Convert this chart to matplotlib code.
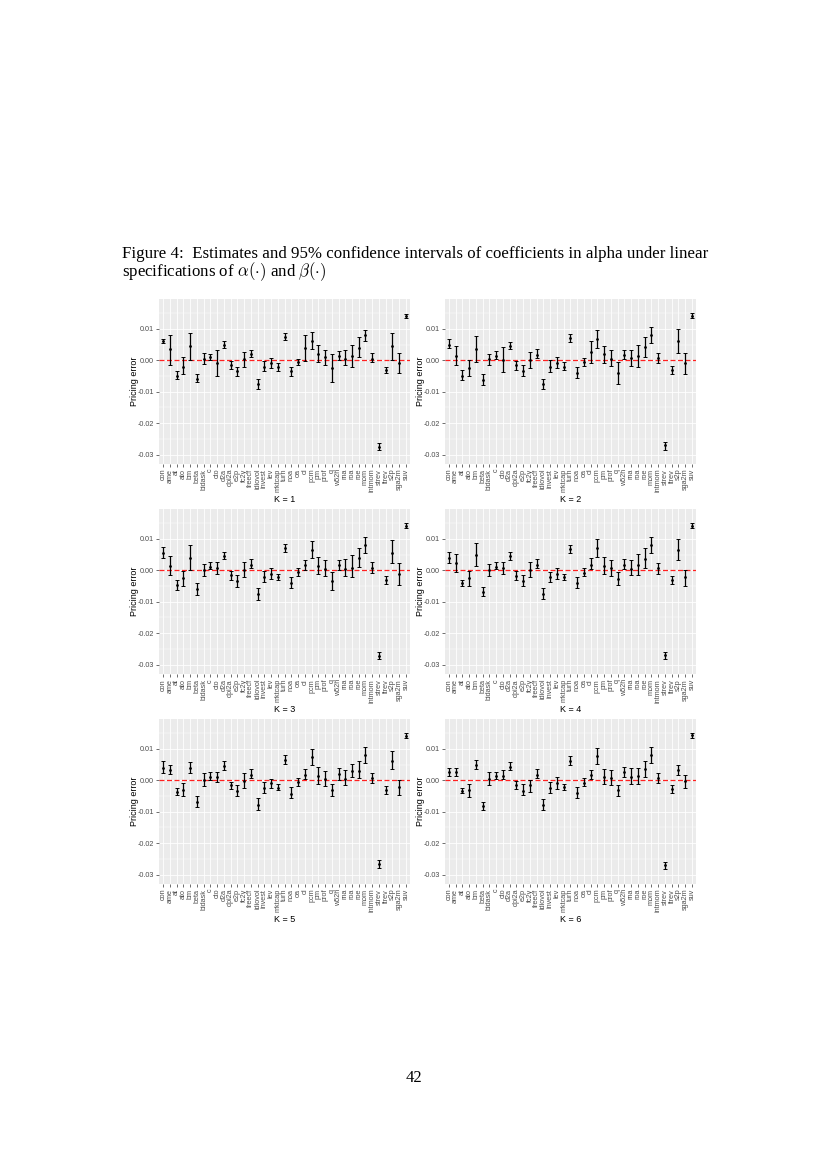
import matplotlib
matplotlib.use("Agg")
import matplotlib.pyplot as plt
import numpy as np

# characteristics on the x axis
labels = ["con", "ame", "at", "ato", "bm", "beta", "bidask", "c", "cto", "d2a",
          "dpi2a", "e2p", "fc2y", "freecf", "idiovol", "invest", "lev", "mktcap",
          "turn", "noa", "oa", "ol", "pcm", "pm", "prof", "q", "w52h", "rna",
          "roa", "roe", "mom", "intmom", "strev", "ltrev", "s2p", "sga2m", "suv"]

# K = 1
est_k1 = [0.0060, 0.0035, -0.0050, -0.0020, 0.0045, -0.0060, 0.0003, 0.0010, -0.0010, 0.0048,
          -0.0015, -0.0035, 0.0003, 0.0020, -0.0075, -0.0020, -0.0010, -0.0022, 0.0075, -0.0035,
          -0.0005, 0.0040, 0.0060, 0.0020, 0.0010, -0.0025, 0.0013, 0.0005, 0.0015, 0.0040,
          0.0080, 0.0005, -0.0275, -0.0030, 0.0045, -0.0010, 0.0140]
lo_k1 = [0.0055, -0.0015, -0.0060, -0.0045, 0.0000, -0.0070, -0.0013, 0.0000, -0.0050, 0.0038,
         -0.0028, -0.0050, -0.0020, 0.0010, -0.0090, -0.0035, -0.0025, -0.0033, 0.0065, -0.0050,
         -0.0015, -0.0003, 0.0035, -0.0007, -0.0015, -0.0070, 0.0000, -0.0015, -0.0020, 0.0010,
         0.0060, -0.0005, -0.0285, -0.0040, 0.0000, -0.0042, 0.0135]
hi_k1 = [0.0067, 0.0080, -0.0035, 0.0010, 0.0087, -0.0045, 0.0022, 0.0020, 0.0033, 0.0060,
         -0.0002, -0.0020, 0.0025, 0.0033, -0.0060, -0.0002, 0.0006, -0.0010, 0.0088, -0.0020,
         0.0005, 0.0080, 0.0090, 0.0048, 0.0034, 0.0020, 0.0030, 0.0034, 0.0050, 0.0073,
         0.0098, 0.0022, -0.0262, -0.0020, 0.0087, 0.0024, 0.0148]

# K = 2
est_k2 = [0.0050, 0.0015, -0.0050, -0.0025, 0.0035, -0.0062, 0.0003, 0.0013, 0.0000, 0.0045,
          -0.0015, -0.0035, 0.0000, 0.0018, -0.0077, -0.0020, -0.0008, -0.0020, 0.0070, -0.0040,
          -0.0007, 0.0025, 0.0068, 0.0020, 0.0005, -0.0040, 0.0017, 0.0007, 0.0013, 0.0042,
          0.0080, 0.0006, -0.0271, -0.0030, 0.0060, -0.0010, 0.0142]
lo_k2 = [0.0040, -0.0016, -0.0063, -0.0050, -0.0004, -0.0079, -0.0016, 0.0004, -0.0038, 0.0036,
         -0.0032, -0.0051, -0.0023, 0.0006, -0.0091, -0.0038, -0.0024, -0.0032, 0.0057, -0.0057,
         -0.0018, -0.0009, 0.0040, -0.0010, -0.0019, -0.0077, 0.0003, -0.0017, -0.0022, 0.0011,
         0.0056, -0.0010, -0.0284, -0.0043, 0.0022, -0.0045, 0.0134]
hi_k2 = [0.0069, 0.0047, -0.0031, 0.0000, 0.0078, -0.0044, 0.0021, 0.0028, 0.0041, 0.0058,
         -0.0003, -0.0015, 0.0026, 0.0035, -0.0060, 0.0000, 0.0009, -0.0007, 0.0085, -0.0021,
         0.0006, 0.0060, 0.0097, 0.0047, 0.0032, -0.0006, 0.0033, 0.0034, 0.0049, 0.0074,
         0.0105, 0.0023, -0.0260, -0.0019, 0.0100, 0.0023, 0.0150]

# K = 3
est_k3 = [0.0055, 0.0015, -0.0048, -0.0025, 0.0040, -0.0060, 0.0000, 0.0012, 0.0007, 0.0047,
          -0.0015, -0.0033, 0.0000, 0.0018, -0.0075, -0.0020, -0.0010, -0.0020, 0.0072, -0.0040,
          -0.0006, 0.0017, 0.0065, 0.0015, 0.0005, -0.0035, 0.0017, 0.0005, 0.0008, 0.0040,
          0.0080, 0.0006, -0.0271, -0.0030, 0.0055, -0.0010, 0.0142]
lo_k3 = [0.0038, -0.0015, -0.0063, -0.0051, 0.0000, -0.0079, -0.0018, 0.0004, -0.0010, 0.0035,
         -0.0032, -0.0052, -0.0021, 0.0006, -0.0093, -0.0038, -0.0026, -0.0031, 0.0057, -0.0057,
         -0.0017, 0.0000, 0.0038, -0.0010, -0.0018, -0.0063, 0.0001, -0.0017, -0.0022, 0.0011,
         0.0056, -0.0009, -0.0283, -0.0044, 0.0022, -0.0045, 0.0134]
hi_k3 = [0.0073, 0.0047, -0.0032, -0.0002, 0.0081, -0.0041, 0.0021, 0.0028, 0.0028, 0.0060,
         -0.0001, -0.0015, 0.0026, 0.0035, -0.0057, -0.0002, 0.0009, -0.0010, 0.0084, -0.0022,
         0.0006, 0.0034, 0.0095, 0.0044, 0.0032, -0.0004, 0.0033, 0.0035, 0.0049, 0.0072,
         0.0105, 0.0026, -0.0260, -0.0017, 0.0096, 0.0024, 0.0150]

# K = 4
est_k4 = [0.0040, 0.0022, -0.0040, -0.0025, 0.0050, -0.0068, 0.0000, 0.0012, 0.0008, 0.0045,
          -0.0018, -0.0033, 0.0000, 0.0018, -0.0075, -0.0022, -0.0010, -0.0022, 0.0067, -0.0040,
          -0.0007, 0.0017, 0.0070, 0.0015, 0.0008, -0.0027, 0.0018, 0.0005, 0.0017, 0.0035,
          0.0080, 0.0006, -0.0268, -0.0030, 0.0065, -0.0020, 0.0142]
lo_k4 = [0.0023, -0.0006, -0.0050, -0.0051, 0.0014, -0.0082, -0.0017, 0.0003, -0.0011, 0.0034,
         -0.0031, -0.0051, -0.0020, 0.0006, -0.0091, -0.0038, -0.0026, -0.0031, 0.0054, -0.0055,
         -0.0017, 0.0004, 0.0044, -0.0012, -0.0017, -0.0047, 0.0003, -0.0016, -0.0015, 0.0006,
         0.0056, -0.0010, -0.0283, -0.0044, 0.0033, -0.0050, 0.0134]
hi_k4 = [0.0060, 0.0052, -0.0032, -0.0002, 0.0086, -0.0052, 0.0021, 0.0027, 0.0028, 0.0060,
         -0.0003, -0.0015, 0.0026, 0.0035, -0.0057, -0.0004, 0.0006, -0.0010, 0.0081, -0.0020,
         0.0006, 0.0038, 0.0100, 0.0044, 0.0032, -0.0005, 0.0035, 0.0034, 0.0052, 0.0072,
         0.0105, 0.0023, -0.0260, -0.0018, 0.0100, 0.0001, 0.0150]

# K = 5
est_k5 = [0.0040, 0.0033, -0.0037, -0.0030, 0.0038, -0.0070, 0.0000, 0.0012, 0.0010, 0.0045,
          -0.0015, -0.0033, -0.0002, 0.0018, -0.0077, -0.0025, -0.0010, -0.0025, 0.0065, -0.0042,
          -0.0006, 0.0018, 0.0075, 0.0015, 0.0005, -0.0030, 0.0020, 0.0005, 0.0030, 0.0030,
          0.0080, 0.0006, -0.0267, -0.0030, 0.0060, -0.0020, 0.0142]
lo_k5 = [0.0022, 0.0020, -0.0048, -0.0051, 0.0022, -0.0084, -0.0017, 0.0002, -0.0004, 0.0034,
         -0.0029, -0.0051, -0.0023, 0.0006, -0.0095, -0.0039, -0.0026, -0.0032, 0.0051, -0.0057,
         -0.0017, 0.0003, 0.0049, -0.0012, -0.0017, -0.0050, 0.0001, -0.0015, 0.0011, 0.0006,
         0.0054, -0.0010, -0.0279, -0.0044, 0.0035, -0.0047, 0.0134]
hi_k5 = [0.0061, 0.0049, -0.0023, -0.0007, 0.0057, -0.0051, 0.0024, 0.0028, 0.0028, 0.0060,
         -0.0004, -0.0015, 0.0024, 0.0035, -0.0057, -0.0006, 0.0004, -0.0011, 0.0082, -0.0022,
         0.0006, 0.0035, 0.0101, 0.0041, 0.0031, -0.0013, 0.0038, 0.0033, 0.0053, 0.0060,
         0.0105, 0.0024, -0.0254, -0.0018, 0.0094, 0.0000, 0.0150]

# K = 6
est_k6 = [0.0027, 0.0025, -0.0033, -0.0032, 0.0048, -0.0083, 0.0005, 0.0013, 0.0015, 0.0043,
          -0.0015, -0.0033, -0.0015, 0.0018, -0.0080, -0.0025, -0.0010, -0.0022, 0.0060, -0.0040,
          -0.0008, 0.0017, 0.0078, 0.0012, 0.0008, -0.0030, 0.0025, 0.0012, 0.0013, 0.0035,
          0.0080, 0.0006, -0.0270, -0.0027, 0.0033, -0.0003, 0.0143]
lo_k6 = [0.0014, 0.0015, -0.0041, -0.0054, 0.0035, -0.0096, -0.0015, 0.0003, 0.0003, 0.0032,
         -0.0029, -0.0047, -0.0036, 0.0006, -0.0096, -0.0039, -0.0028, -0.0031, 0.0049, -0.0057,
         -0.0018, 0.0003, 0.0053, -0.0012, -0.0016, -0.0050, 0.0009, -0.0011, -0.0012, 0.0012,
         0.0054, -0.0010, -0.0281, -0.0039, 0.0017, -0.0026, 0.0134]
hi_k6 = [0.0040, 0.0040, -0.0023, -0.0011, 0.0064, -0.0068, 0.0028, 0.0026, 0.0034, 0.0057,
         -0.0001, -0.0012, 0.0002, 0.0036, -0.0061, -0.0005, 0.0009, -0.0011, 0.0076, -0.0020,
         0.0006, 0.0034, 0.0102, 0.0037, 0.0033, -0.0015, 0.0041, 0.0038, 0.0040, 0.0063,
         0.0105, 0.0024, -0.0260, -0.0015, 0.0050, 0.0016, 0.0152]

panels = [("K = 1", est_k1, lo_k1, hi_k1), ("K = 2", est_k2, lo_k2, hi_k2),
          ("K = 3", est_k3, lo_k3, hi_k3), ("K = 4", est_k4, lo_k4, hi_k4),
          ("K = 5", est_k5, lo_k5, hi_k5), ("K = 6", est_k6, lo_k6, hi_k6)]

plt.rcParams['font.family'] = ['Liberation Sans', 'DejaVu Sans']
plt.rcParams['mathtext.fontset'] = 'cm'

fig = plt.figure(figsize=(8.27, 11.69), dpi=100)

lefts = [0.1923, 0.538]
bottoms = [0.6031, 0.4234, 0.2438]
w, h = 0.3035, 0.1411

x = np.arange(len(labels))
for i, (name, est, lo, hi) in enumerate(panels):
    ax = fig.add_axes([lefts[i % 2], bottoms[i // 2], w, h])
    est = np.array(est)
    lo = np.array(lo)
    hi = np.array(hi)
    ax.set_facecolor("#EBEBEB")
    for s in ax.spines.values():
        s.set_visible(False)
    ax.set_xlim(-0.6, len(labels) - 0.4)
    ax.set_ylim(-0.0330, 0.0195)
    ax.set_yticks([-0.03, -0.02, -0.01, 0.0, 0.01])
    ax.set_yticklabels(["-0.03", "-0.02", "-0.01", "0.00", "0.01"])
    ax.set_yticks([-0.025, -0.015, -0.005, 0.005, 0.015], minor=True)
    ax.set_xticks(x)
    ax.set_xticklabels(labels, rotation=90)
    ax.grid(True, which="major", color="white", lw=0.6)
    ax.grid(True, which="minor", axis="y", color="white", lw=0.3)
    ax.set_axisbelow(True)
    ax.tick_params(which="major", length=2, width=0.5, color="#333333",
                   labelsize=5.2, labelcolor="#4D4D4D", pad=1.5)
    ax.tick_params(which="minor", length=0)

    ax.axhline(0, color="#FF2020", ls=(0, (4, 2)), lw=0.9, zorder=2)
    ax.errorbar(x, est, yerr=[est - lo, hi - est], fmt="o", ms=1.0, color="black",
                ecolor="black", elinewidth=0.9, capsize=1.6, capthick=0.7, zorder=3)

    ax.set_ylabel("Pricing error", fontsize=6.5, labelpad=-1)
    ax.set_xlabel(name, fontsize=6.5, labelpad=2)

fig.text(0.1475, 0.7795,
         "Figure 4:  Estimates and 95% confidence intervals of coefficients in alpha under linear",
         fontsize=12.2, family=['Liberation Serif', 'DejaVu Serif'], ha="left", va="baseline")
fig.text(0.1475, 0.7639,
         r"specifications of $\alpha(\cdot)$ and $\beta(\cdot)$",
         fontsize=12.2, family=['Liberation Serif', 'DejaVu Serif'], ha="left", va="baseline")
fig.text(0.5, 0.0745, "42", fontsize=12, family=['Liberation Serif', 'DejaVu Serif'],
         ha="center", va="baseline")

plt.savefig("out.png", dpi=100)
